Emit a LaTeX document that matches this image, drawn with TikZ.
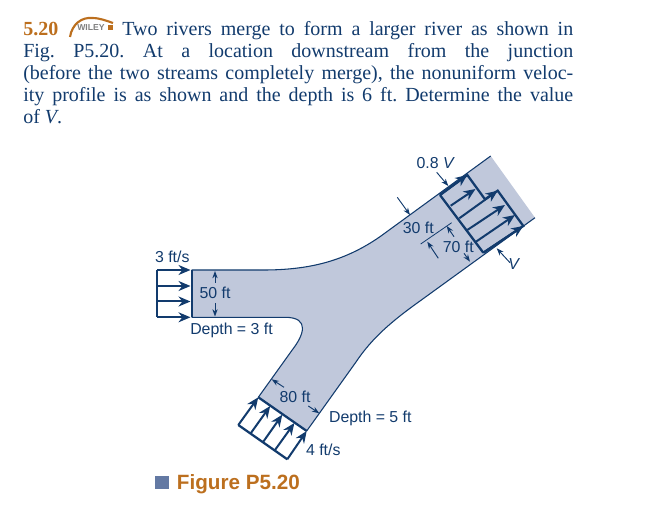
\documentclass[tikz,border=0pt]{standalone}
\usepackage{fontspec}
\setmainfont{Liberation Serif}
\setsansfont{Liberation Sans}
\usetikzlibrary{arrows.meta}
\definecolor{riverblue}{HTML}{C0C8DB}
\definecolor{inkblue}{HTML}{123B6D}
\definecolor{probrown}{HTML}{BC6F1E}
\definecolor{boxblue}{HTML}{6379A3}
\tikzset{
  bank/.style={color=inkblue,line width=0.8pt},
  profile/.style={color=inkblue,line width=1.7pt,line join=miter},
  flow/.style={color=inkblue,line width=1.5pt,-{Stealth[length=9pt,width=7.5pt]}},
  dimarrow/.style={color=inkblue,line width=0.7pt,-{Stealth[length=5.5pt,width=4pt]}},
  lbl/.style={color=inkblue,inner sep=0pt,font=\sffamily\fontsize{11.9}{14}\selectfont}
}
\begin{document}
\begin{tikzpicture}[x=0.75pt,y=-0.75pt]
\useasboundingbox (0,0) rectangle (661,530);

\node[anchor=north west,inner sep=0pt,text width=412.5pt,align=justify,color=inkblue,
  font=\fontsize{15}{16.5}\selectfont\frenchspacing] (problem) at (23,21)
  {\textcolor{probrown}{\bfseries 5.20}\hspace{48pt}Two rivers merge to form a larger river as shown in\linebreak
   Fig. P5.20. At a location downstream from the junction\linebreak
   (before the two streams completely merge), the nonuniform veloc-\linebreak
   ity profile is as shown and the depth is 6 ft. Determine the value\linebreak
   of \textit{V}.\hfill\null};

% logo
\draw[color=probrown,line width=1.6pt] (70,37) .. controls (72,24) and (82,17) .. (92,18) .. controls (100,18) and (107,21) .. (113,23);
\node[inner sep=0pt,color=gray,font=\sffamily\bfseries\fontsize{6.5}{7}\selectfont] (wiley) at (91,28) {WILEY};
\fill[probrown] (108,25.5) rectangle (113,30.5);

% river
\fill[riverblue] (191.7,270) -- (258,270) .. controls (305,270.5) and (342,263) .. (380,236.7) -- (490.7,156) -- (535,217.7)
  -- (420,301) .. controls (392,321) and (372,338) .. (356,362) -- (306.7,431) -- (258.3,397.3) -- (292.7,349.3)
  .. controls (303,336) and (311,317.3) .. (285,317.3) -- (191.7,317.3) -- cycle;
\draw[bank] (191.7,270) -- (258,270) .. controls (305,270.5) and (342,263) .. (380,236.7) -- (490.7,156);
\draw[bank] (535,217.7) -- (420,301) .. controls (392,321) and (372,338) .. (356,362) -- (306.7,431);
\draw[bank] (191.7,317.3) -- (285,317.3) .. controls (311,317.3) and (303,336) .. (292.7,349.3) -- (258.3,397.3);

% left profile
\draw[profile] (191.7,270) -- (191.7,317.3);
\draw[profile] (157,270) -- (157,317.3);
\draw[flow] (157,270) -- (190.5,270);
\draw[flow] (157,286) -- (190.5,286);
\draw[flow] (157,301.5) -- (190.5,301.5);
\draw[flow] (157,317.3) -- (190.5,317.3);

% lower profile
\draw[profile] (258.3,397.3) -- (306.7,431);
\draw[profile] (238.3,425) -- (287.3,459.3);
\draw[flow] (238.3,425) -- (258.3,397.3);
\draw[flow] (250.7,433.3) -- (270.2,406);
\draw[flow] (263.3,441.7) -- (282.3,414.7);
\draw[flow] (275,450) -- (294.4,423);
\draw[flow] (287.3,459.3) -- (306.7,431);

% upper profile
\draw[profile] (440,195) -- (483.3,252.7);
\draw[profile] (440,195) -- (467.3,175) -- (485,199.3) -- (497.7,190.7) -- (523.3,226) -- (483.3,252.7);
\draw[flow] (440,195) -- (467.3,175);
\draw[flow] (450.7,205.7) -- (475.5,189);
\draw[flow] (459.3,218.3) -- (497.7,190.7);
\draw[flow] (467.3,230) -- (505,205);
\draw[flow] (476,241.7) -- (515,215);
\draw[flow] (483.3,252.7) -- (523.3,226);

% dimensions
\draw[dimarrow] (215,283) -- (215,271);
\draw[dimarrow] (215,303) -- (215,316.5);
\draw[dimarrow] (284,387.3) -- (271.7,379.3);
\draw[dimarrow] (308.3,406) -- (319.3,413.3);
\draw[dimarrow] (397.3,197.3) -- (410,215);
\draw[bank,line width=0.6pt] (420.7,244) -- (451.7,222.7);
\draw[dimarrow] (438.3,258.3) -- (427.3,241.7);
\draw[dimarrow] (454,236.7) -- (446.7,226);
\draw[dimarrow] (464,253.3) -- (470,261.7);
\draw[dimarrow] (436.7,172.3) -- (448.3,186);
\draw[dimarrow] (510,262.7) -- (496.7,248.3);

% labels
\node[lbl] (leftspeed) at (172.3,256.7) {3 ft/s};
\node[lbl] (leftwidth) at (215,293) {50 ft};
\node[lbl] (leftdepth) at (231.5,330.7) {Depth = 3 ft};
\node[lbl] (lowwidth) at (295,397.3) {80 ft};
\node[lbl] (lowdepth) at (370.3,418.3) {Depth = 5 ft};
\node[lbl] (lowspeed) at (323.3,450) {4 ft/s};
\node[lbl] (topspeed) at (435.7,163.3) {0.8 \textit{V}};
\node[lbl] (topnear) at (418.3,228.3) {30 ft};
\node[lbl] (topfar) at (458.3,246.7) {70 ft};
\node[lbl] (topv) at (514.3,264) {\textit{V}};

\fill[boxblue] (155,476) rectangle (169,489.5);
\node[anchor=west,inner sep=0pt,color=probrown,font=\sffamily\bfseries\fontsize{15.5}{18}\selectfont] (figlabel) at (176.7,484.5) {Figure P5.20};
\end{tikzpicture}
\end{document}
